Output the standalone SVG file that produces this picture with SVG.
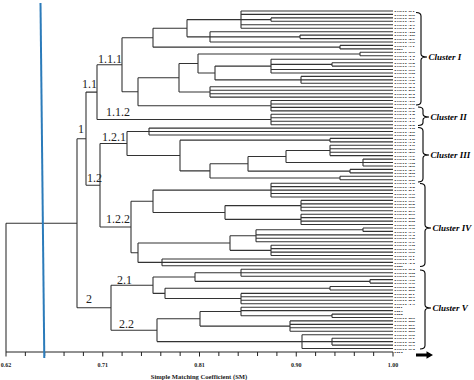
<svg xmlns="http://www.w3.org/2000/svg" width="474" height="380" viewBox="0 0 474 380">
<style>
.br{fill:none;stroke:#333;stroke-width:1.1}
.ax{fill:none;stroke:#222;stroke-width:1}
.nl{font-family:"Liberation Serif",serif;font-size:12px;fill:#222}
.lf{font-family:"Liberation Serif",serif;font-size:2.9px;font-weight:bold;fill:#111}
.cl{font-family:"Liberation Serif",serif;font-size:9px;font-weight:bold;font-style:italic;fill:#000}
.brk{fill:none;stroke:#000;stroke-width:1.1}
.tk{font-family:"Liberation Serif",serif;font-size:6px;font-weight:bold;fill:#222;text-anchor:middle}
</style>
<rect width="474" height="380" fill="#fff"/>
<g id="connectors">
<path class="br" d="M271 17.9V21.3M271 17.9H393M271 21.3H393"/>
<path class="br" d="M241 11V28.2M241 11H393M241 14.4H393M241 19.6H271M241 24.8H393M241 28.2H393"/>
<path class="br" d="M300 35.1V38.6M300 35.1H393M300 38.6H393"/>
<path class="br" d="M210 31.7V42M210 31.7H393M210 36.85H300M210 42H393"/>
<path class="br" d="M187 19.6V36.85M187 19.6H241M187 36.85H210"/>
<path class="br" d="M340 45.4V48.9M340 45.4H393M340 48.9H393"/>
<path class="br" d="M153 28.2V47.15M153 28.2H187M153 47.15H340"/>
<path class="br" d="M360 52.3V55.8M360 52.3H393M360 55.8H393"/>
<path class="br" d="M332 62.7V66.1M332 62.7H393M332 66.1H393"/>
<path class="br" d="M271 59.2V73M271 59.2H393M271 64.4H332M271 69.5H393M271 73H393"/>
<path class="br" d="M301 76.4V83.3M301 76.4H393M301 79.9H393M301 83.3H393"/>
<path class="br" d="M215 66.1V79.9M215 66.1H271M215 79.9H301"/>
<path class="br" d="M198 54.05V73M198 54.05H360M198 73H215"/>
<path class="br" d="M210 86.8V97.1M210 86.8H393M210 90.2H393M210 93.7H393M210 97.1H393"/>
<path class="br" d="M179 63.5V91.95M179 63.5H198M179 91.95H210"/>
<path class="br" d="M271 100.5V110.9M271 100.5H393M271 104H393M271 107.4H393M271 110.9H393"/>
<path class="br" d="M138 77.7V105.7M138 77.7H179M138 105.7H271"/>
<path class="br" d="M122 37.7V91.7M122 37.7H153M122 91.7H138"/>
<path class="br" d="M271 114.3V124.7M271 114.3H393M271 117.8H393M271 121.2H393M271 124.7H393"/>
<path class="br" d="M97 64.7V119.5M97 64.7H122M97 119.5H271"/>
<path class="br" d="M149 128.1V135M149 128.1H393M149 131.5H393M149 135H393"/>
<path class="br" d="M330 138.4V141.9M330 138.4H393M330 141.9H393"/>
<path class="br" d="M330 145.3V155.6M330 145.3H393M330 148.8H393M330 152.2H393M330 155.6H393"/>
<path class="br" d="M363 159.1V166M363 159.1H393M363 162.5H393M363 166H393"/>
<path class="br" d="M286 150.45V162.55M286 150.45H330M286 162.55H363"/>
<path class="br" d="M350 169.4V172.9M350 169.4H393M350 172.9H393"/>
<path class="br" d="M248 156.5V171.15M248 156.5H286M248 171.15H350"/>
<path class="br" d="M340 176.3V179.8M340 176.3H393M340 179.8H393"/>
<path class="br" d="M210 163.8V178.05M210 163.8H248M210 178.05H340"/>
<path class="br" d="M180 140.15V170.9M180 140.15H330M180 170.9H210"/>
<path class="br" d="M127 131.55V155.5M127 131.55H149M127 155.5H180"/>
<path class="br" d="M271 183.2V197M271 183.2H393M271 186.6H393M271 190.1H393M271 193.5H393M271 197H393"/>
<path class="br" d="M301 200.4V210.8M301 200.4H393M301 203.9H393M301 207.3H393M301 210.8H393"/>
<path class="br" d="M301 214.2V224.5M301 214.2H393M301 217.6H393M301 221.1H393M301 224.5H393"/>
<path class="br" d="M225 205.6V219.35M225 205.6H301M225 219.35H301"/>
<path class="br" d="M153 190.1V212.5M153 190.1H271M153 212.5H225"/>
<path class="br" d="M363 228V231.4M363 228H393M363 231.4H393"/>
<path class="br" d="M256 229.7V241.7M256 229.7H363M256 234.9H393M256 238.3H393M256 241.7H393"/>
<path class="br" d="M271 245.2V255.5M271 245.2H393M271 248.6H393M271 252.1H393M271 255.5H393"/>
<path class="br" d="M230 235.7V250.35M230 235.7H256M230 250.35H271"/>
<path class="br" d="M162 259V265.8M162 259H393M162 262.4H393M162 265.8H393"/>
<path class="br" d="M138 243V262.4M138 243H230M138 262.4H162"/>
<path class="br" d="M131 201.3V252.7M131 201.3H153M131 252.7H138"/>
<path class="br" d="M100 143.5V227M100 143.5H127M100 227H131"/>
<path class="br" d="M86 92.1V185.25M86 92.1H97M86 185.25H100"/>
<path class="br" d="M241 269.3V276.2M241 269.3H393M241 272.7H393M241 276.2H393"/>
<path class="br" d="M370 279.6V283.1M370 279.6H393M370 283.1H393"/>
<path class="br" d="M195 272.75V281.35M195 272.75H241M195 281.35H370"/>
<path class="br" d="M330 286.5V290M330 286.5H393M330 290H393"/>
<path class="br" d="M241 293.4V303.7M241 293.4H393M241 296.8H393M241 300.3H393M241 303.7H393"/>
<path class="br" d="M165 288.25V298.55M165 288.25H330M165 298.55H241"/>
<path class="br" d="M153 277.05V293.4M153 277.05H195M153 293.4H165"/>
<path class="br" d="M332 314.1V317.5M332 314.1H393M332 317.5H393"/>
<path class="br" d="M241 307.2V315.8M241 307.2H393M241 310.6H393M241 315.8H332"/>
<path class="br" d="M290 320.9V331.3M290 320.9H393M290 324.4H393M290 327.8H393M290 331.3H393"/>
<path class="br" d="M200 311.5V326.1M200 311.5H241M200 326.1H290"/>
<path class="br" d="M332 338.2V345.1M332 338.2H393M332 341.6H393M332 345.1H393"/>
<path class="br" d="M302 334.7V348.5M302 334.7H393M302 341.65H332M302 348.5H393"/>
<path class="br" d="M157 318.8V341.6M157 318.8H200M157 341.6H302"/>
<path class="br" d="M111 285.2V330.2M111 285.2H153M111 330.2H157"/>
<path class="br" d="M77 138.7V307.7M77 138.7H86M77 307.7H111"/>
<path class="br" d="M6 223.2V352M6 223.2H77"/>
</g>
<g id="axis">
<path class="ax" d="M6 352H393M6 352V356.5M25.35 352V356M44.7 352V356M64.05 352V356M83.4 352V356M102.75 352V356.5M122.1 352V356M141.45 352V356M160.8 352V356M180.15 352V356M199.5 352V356.5M218.85 352V356M238.2 352V356M257.55 352V356M276.9 352V356M296.25 352V356.5M315.6 352V356M334.95 352V356M354.3 352V356M373.65 352V356M393 352V356.5"/>
<text class="tk" x="6" y="367">0.62</text>
<text class="tk" x="102.75" y="367">0.71</text>
<text class="tk" x="199.5" y="367">0.81</text>
<text class="tk" x="296.25" y="367">0.90</text>
<text class="tk" x="393" y="367">1.00</text>
<text class="tk" x="199" y="378.5" style="font-size:6.6px">Simple Matching Coefficient (SM)</text>
</g>
<g id="cut-line">
<line x1="40.5" y1="3" x2="44.3" y2="358" stroke="#2b7bba" stroke-width="2"/>
</g>
<g id="node-labels">
<text class="nl" x="78" y="133">1</text>
<text class="nl" x="82" y="88">1.1</text>
<text class="nl" x="98" y="63">1.1.1</text>
<text class="nl" x="106" y="116">1.1.2</text>
<text class="nl" x="87" y="182">1.2</text>
<text class="nl" x="102" y="141">1.2.1</text>
<text class="nl" x="106" y="223">1.2.2</text>
<text class="nl" x="86" y="303">2</text>
<text class="nl" x="117" y="283.5">2.1</text>
<text class="nl" x="119" y="327.5">2.2</text>
</g>
<g id="leaves" class="lf">
<text x="394" y="12.1" textLength="21" lengthAdjust="spacingAndGlyphs">ISOL01</text>
<text x="394" y="15.5" textLength="21" lengthAdjust="spacingAndGlyphs">ISOL09</text>
<text x="394" y="19" textLength="21" lengthAdjust="spacingAndGlyphs">ISOL07</text>
<text x="394" y="22.4" textLength="21" lengthAdjust="spacingAndGlyphs">ISOL47</text>
<text x="394" y="25.9" textLength="21" lengthAdjust="spacingAndGlyphs">ISOL43</text>
<text x="394" y="29.3" textLength="21" lengthAdjust="spacingAndGlyphs">ISOL21</text>
<text x="394" y="32.8" textLength="21" lengthAdjust="spacingAndGlyphs">ISOL48</text>
<text x="394" y="36.2" textLength="21" lengthAdjust="spacingAndGlyphs">ISOL46</text>
<text x="394" y="39.7" textLength="21" lengthAdjust="spacingAndGlyphs">ISOL27</text>
<text x="394" y="43.1" textLength="21" lengthAdjust="spacingAndGlyphs">ISOL35</text>
<text x="394" y="46.5" textLength="21" lengthAdjust="spacingAndGlyphs">ISOL31</text>
<text x="394" y="50" textLength="9" lengthAdjust="spacingAndGlyphs">IB5</text>
<text x="394" y="53.4" textLength="21" lengthAdjust="spacingAndGlyphs">ISOL05</text>
<text x="394" y="56.9" textLength="21" lengthAdjust="spacingAndGlyphs">ISOL14</text>
<text x="394" y="60.3" textLength="21" lengthAdjust="spacingAndGlyphs">ISOL11</text>
<text x="394" y="63.8" textLength="21" lengthAdjust="spacingAndGlyphs">ISOL52</text>
<text x="394" y="67.2" textLength="21" lengthAdjust="spacingAndGlyphs">ISOL33</text>
<text x="394" y="70.6" textLength="21" lengthAdjust="spacingAndGlyphs">ISOL55</text>
<text x="394" y="74.1" textLength="21" lengthAdjust="spacingAndGlyphs">ISOL58</text>
<text x="394" y="77.5" textLength="21" lengthAdjust="spacingAndGlyphs">ISOL71</text>
<text x="394" y="81" textLength="21" lengthAdjust="spacingAndGlyphs">ISOL36</text>
<text x="394" y="84.4" textLength="21" lengthAdjust="spacingAndGlyphs">ISOL54</text>
<text x="394" y="87.9" textLength="21" lengthAdjust="spacingAndGlyphs">ISOL24</text>
<text x="394" y="91.3" textLength="21" lengthAdjust="spacingAndGlyphs">ISOL60</text>
<text x="394" y="94.8" textLength="21" lengthAdjust="spacingAndGlyphs">ISOL64</text>
<text x="394" y="98.2" textLength="21" lengthAdjust="spacingAndGlyphs">ISOL02</text>
<text x="394" y="101.6" textLength="21" lengthAdjust="spacingAndGlyphs">ISOL45</text>
<text x="394" y="105.1" textLength="21" lengthAdjust="spacingAndGlyphs">ISOL39</text>
<text x="394" y="108.5" textLength="21" lengthAdjust="spacingAndGlyphs">ISOL67</text>
<text x="394" y="112" textLength="21" lengthAdjust="spacingAndGlyphs">ISOL72</text>
<text x="394" y="115.4" textLength="21" lengthAdjust="spacingAndGlyphs">ISOL12</text>
<text x="394" y="118.9" textLength="21" lengthAdjust="spacingAndGlyphs">ISOL15</text>
<text x="394" y="122.3" textLength="21" lengthAdjust="spacingAndGlyphs">ISOL17</text>
<text x="394" y="125.8" textLength="21" lengthAdjust="spacingAndGlyphs">ISOL22</text>
<text x="394" y="129.2" textLength="21" lengthAdjust="spacingAndGlyphs">ISOL18</text>
<text x="394" y="132.6" textLength="21" lengthAdjust="spacingAndGlyphs">ISOL40</text>
<text x="394" y="136.1" textLength="21" lengthAdjust="spacingAndGlyphs">ISOL26</text>
<text x="394" y="139.5" textLength="21" lengthAdjust="spacingAndGlyphs">ISOL16</text>
<text x="394" y="143" textLength="21" lengthAdjust="spacingAndGlyphs">ISOL34</text>
<text x="394" y="146.4" textLength="21" lengthAdjust="spacingAndGlyphs">ISOL19</text>
<text x="394" y="149.9" textLength="21" lengthAdjust="spacingAndGlyphs">ISOL25</text>
<text x="394" y="153.3" textLength="21" lengthAdjust="spacingAndGlyphs">ISOL29</text>
<text x="394" y="156.7" textLength="21" lengthAdjust="spacingAndGlyphs">ISOL37</text>
<text x="394" y="160.2" textLength="21" lengthAdjust="spacingAndGlyphs">ISOL32</text>
<text x="394" y="163.6" textLength="21" lengthAdjust="spacingAndGlyphs">ISOL38</text>
<text x="394" y="167.1" textLength="21" lengthAdjust="spacingAndGlyphs">ISOL20</text>
<text x="394" y="170.5" textLength="21" lengthAdjust="spacingAndGlyphs">ISOL23</text>
<text x="394" y="174" textLength="21" lengthAdjust="spacingAndGlyphs">ISOL28</text>
<text x="394" y="177.4" textLength="21" lengthAdjust="spacingAndGlyphs">ISOL03</text>
<text x="394" y="180.9" textLength="21" lengthAdjust="spacingAndGlyphs">ISOL06</text>
<text x="394" y="184.3" textLength="21" lengthAdjust="spacingAndGlyphs">ISOL10</text>
<text x="394" y="187.7" textLength="21" lengthAdjust="spacingAndGlyphs">ISOL42</text>
<text x="394" y="191.2" textLength="21" lengthAdjust="spacingAndGlyphs">ISOL61</text>
<text x="394" y="194.6" textLength="21" lengthAdjust="spacingAndGlyphs">ISOL75</text>
<text x="394" y="198.1" textLength="21" lengthAdjust="spacingAndGlyphs">ISOL56</text>
<text x="394" y="201.5" textLength="21" lengthAdjust="spacingAndGlyphs">ISOL57</text>
<text x="394" y="205" textLength="21" lengthAdjust="spacingAndGlyphs">ISOL62</text>
<text x="394" y="208.4" textLength="21" lengthAdjust="spacingAndGlyphs">ISOL59</text>
<text x="394" y="211.9" textLength="21" lengthAdjust="spacingAndGlyphs">ISOL63</text>
<text x="394" y="215.3" textLength="21" lengthAdjust="spacingAndGlyphs">ISOL65</text>
<text x="394" y="218.7" textLength="21" lengthAdjust="spacingAndGlyphs">ISOL66</text>
<text x="394" y="222.2" textLength="21" lengthAdjust="spacingAndGlyphs">ISOL68</text>
<text x="394" y="225.6" textLength="21" lengthAdjust="spacingAndGlyphs">ISOL69</text>
<text x="394" y="229.1" textLength="21" lengthAdjust="spacingAndGlyphs">ISOL70</text>
<text x="394" y="232.5" textLength="21" lengthAdjust="spacingAndGlyphs">ISOL73</text>
<text x="394" y="236" textLength="21" lengthAdjust="spacingAndGlyphs">ISOL74</text>
<text x="394" y="239.4" textLength="21" lengthAdjust="spacingAndGlyphs">ISOL76</text>
<text x="394" y="242.8" textLength="21" lengthAdjust="spacingAndGlyphs">ISOL77</text>
<text x="394" y="246.3" textLength="21" lengthAdjust="spacingAndGlyphs">ISOL78</text>
<text x="394" y="249.7" textLength="21" lengthAdjust="spacingAndGlyphs">ISOL53</text>
<text x="394" y="253.2" textLength="21" lengthAdjust="spacingAndGlyphs">ISOL50</text>
<text x="394" y="256.6" textLength="21" lengthAdjust="spacingAndGlyphs">ISOL51</text>
<text x="394" y="260.1" textLength="21" lengthAdjust="spacingAndGlyphs">ISOL41</text>
<text x="394" y="263.5" textLength="21" lengthAdjust="spacingAndGlyphs">ISOL44</text>
<text x="394" y="266.9" textLength="9" lengthAdjust="spacingAndGlyphs">IB6</text>
<text x="394" y="270.4" textLength="21" lengthAdjust="spacingAndGlyphs">ISOL04</text>
<text x="394" y="273.8" textLength="21" lengthAdjust="spacingAndGlyphs">ISOL08</text>
<text x="394" y="277.3" textLength="21" lengthAdjust="spacingAndGlyphs">ISOL49</text>
<text x="394" y="280.7" textLength="21" lengthAdjust="spacingAndGlyphs">ISOL30</text>
<text x="394" y="284.2" textLength="21" lengthAdjust="spacingAndGlyphs">ISOL79</text>
<text x="394" y="287.6" textLength="21" lengthAdjust="spacingAndGlyphs">ISOL82</text>
<text x="394" y="291.1" textLength="21" lengthAdjust="spacingAndGlyphs">ISOL80</text>
<text x="394" y="294.5" textLength="21" lengthAdjust="spacingAndGlyphs">ISOL81</text>
<text x="394" y="297.9" textLength="21" lengthAdjust="spacingAndGlyphs">ISOL83</text>
<text x="394" y="301.4" textLength="21" lengthAdjust="spacingAndGlyphs">ISOL84</text>
<text x="394" y="304.8" textLength="21" lengthAdjust="spacingAndGlyphs">ISOL13</text>
<text x="394" y="308.3" textLength="9" lengthAdjust="spacingAndGlyphs">IB1</text>
<text x="394" y="311.7" textLength="9" lengthAdjust="spacingAndGlyphs">IB3</text>
<text x="394" y="315.2" textLength="9" lengthAdjust="spacingAndGlyphs">IB2</text>
<text x="394" y="318.6" textLength="21" lengthAdjust="spacingAndGlyphs">ISOL85</text>
<text x="394" y="322" textLength="21" lengthAdjust="spacingAndGlyphs">ISOL86</text>
<text x="394" y="325.5" textLength="21" lengthAdjust="spacingAndGlyphs">ISOL87</text>
<text x="394" y="328.9" textLength="21" lengthAdjust="spacingAndGlyphs">ISOL88</text>
<text x="394" y="332.4" textLength="21" lengthAdjust="spacingAndGlyphs">ISOL89</text>
<text x="394" y="335.8" textLength="21" lengthAdjust="spacingAndGlyphs">ISOL90</text>
<text x="394" y="339.3" textLength="21" lengthAdjust="spacingAndGlyphs">ISOL91</text>
<text x="394" y="342.7" textLength="21" lengthAdjust="spacingAndGlyphs">ISOL92</text>
<text x="394" y="346.2" textLength="21" lengthAdjust="spacingAndGlyphs">ISOL93</text>
<text x="394" y="349.6" textLength="21" lengthAdjust="spacingAndGlyphs">ISOL94</text>
<text x="394" y="353.1" textLength="9" lengthAdjust="spacingAndGlyphs">IB4</text>
</g>
<g id="cluster-1">
<path class="brk" d="M416 12.5Q421 12.5 421 16V54Q421 57 427 57Q421 57 421 60V101.5Q421 105 416 105"/>
<text class="cl" x="428.5" y="60">Cluster I</text>
</g>
<g id="cluster-2">
<path class="brk" d="M418 107Q423 107 423 110V114Q423 117 429 117Q423 117 423 120V122.5Q423 125.5 418 125.5"/>
<text class="cl" x="430.5" y="120">Cluster II</text>
</g>
<g id="cluster-3">
<path class="brk" d="M418 127.5Q423 127.5 423 131V152Q423 155 429 155Q423 155 423 158V178.5Q423 182 418 182"/>
<text class="cl" x="430.5" y="158">Cluster III</text>
</g>
<g id="cluster-4">
<path class="brk" d="M420 183.5Q425 183.5 425 187V225Q425 228 431 228Q425 228 425 231V263Q425 266.5 420 266.5"/>
<text class="cl" x="432.5" y="231">Cluster IV</text>
</g>
<g id="cluster-5">
<path class="brk" d="M420 270Q425 270 425 273.5V305Q425 308 431 308Q425 308 425 311V345.5Q425 349 420 349"/>
<text class="cl" x="432.5" y="311">Cluster V</text>
</g>
<g id="arrow">
<path d="M416 353.6H426.5V351.3L433 355L426.5 358.7V356.4H416Z" fill="#000"/>
</g>
</svg>
